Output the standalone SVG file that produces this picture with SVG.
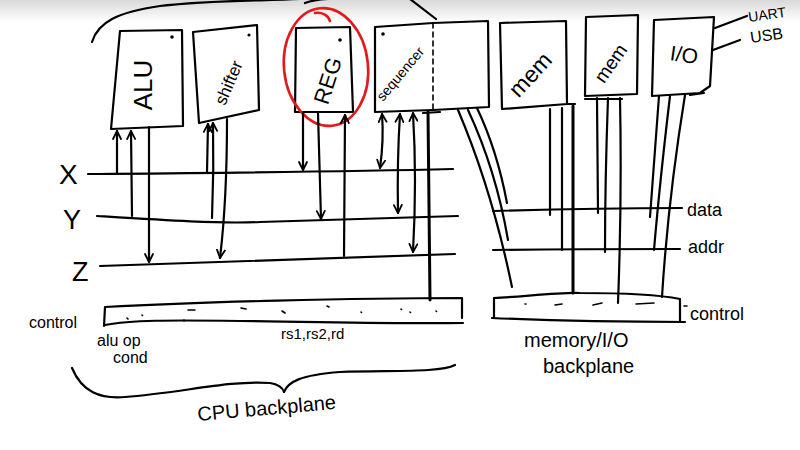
<svg xmlns="http://www.w3.org/2000/svg" width="800" height="450" viewBox="0 0 800 450">
<defs>
<linearGradient id="topfade" x1="0" y1="0" x2="0" y2="1">
<stop offset="0" stop-color="#d9d9d9"/>
<stop offset="1" stop-color="#ffffff"/>
</linearGradient>
<marker id="ah" viewBox="0 0 10 10" refX="9" refY="5" markerWidth="10" markerHeight="10" orient="auto-start-reverse" markerUnits="userSpaceOnUse">
<path d="M1,1 L9,5 L1,9" fill="none" stroke="#000" stroke-width="1.8" stroke-linecap="round" stroke-linejoin="round"/>
</marker>
<style>
.ink{fill:none;stroke:#000;stroke-width:2.2;stroke-linecap:round;stroke-linejoin:round}
.thick{stroke-width:3}
.thin{stroke-width:1.6}
.red{fill:none;stroke:#e01b1b;stroke-width:2.6;stroke-linecap:round}
.arr{marker-end:url(#ah)}
.both{marker-start:url(#ah);marker-end:url(#ah)}
.lbl{font-family:"Liberation Sans","DejaVu Sans",sans-serif;fill:#000}
.dot{fill:#000}
</style>
</defs>
<rect x="0" y="0" width="800" height="450" fill="#fff"/>
<rect x="0" y="0" width="800" height="22" fill="url(#topfade)"/>

<g id="cpu-top-brace">
<path class="ink" d="M92,42 C98,22 118,12 160,6 C210,0 260,1 300,-1 M305,3 C318,-2 340,-2 360,-1 L410,-1"/>
<path class="ink" d="M410,-1 L436,19"/>
</g>

<g id="alu">
<path class="ink" d="M120,31 L182,30 L183,126 L111,129 L120,31"/>
<circle class="dot" cx="172" cy="37" r="1.8"/>
<text class="lbl" font-size="26" transform="translate(152,85) rotate(-90)" text-anchor="middle">ALU</text>
</g>

<g id="shifter">
<path class="ink" d="M193,32 L257,25 L259,110 L199,123 L193,32"/>
<circle class="dot" cx="249" cy="35" r="1.6"/>
<text class="lbl" font-size="17" transform="translate(234,85) rotate(-67)" text-anchor="middle">shifter</text>
</g>

<g id="reg">
<path class="ink" d="M296,28 L350,27 L353,112 L295,112 L296,28"/>
<circle class="dot" cx="340" cy="40" r="1.8"/>
<text class="lbl" font-size="22" transform="translate(335,83) rotate(-72)" text-anchor="middle">REG</text>
<ellipse class="red" cx="326" cy="67" rx="42" ry="59" transform="rotate(-6 326 67)"/>
<path class="red" d="M315,13 C322,12 328,15 330,21"/>
</g>

<g id="sequencer">
<path class="ink" d="M375,27 L433,23 L488,21 L489,107 L433,110 L375,112 L375,27"/>
<path class="ink thin" d="M433,23 L433,110" stroke-dasharray="5,4"/>
<circle class="dot" cx="383" cy="34" r="1.8"/>
<text class="lbl" font-size="14" transform="translate(404,77) rotate(-50)" text-anchor="middle">sequencer</text>
</g>

<g id="mem1">
<path class="ink" d="M500,23 L566,21 L567,104 L575,104 M567,104 L502,109 L500,23"/>
<text class="lbl" font-size="23" transform="translate(536,80) rotate(-47)" text-anchor="middle">mem</text>
</g>

<g id="mem2">
<path class="ink" d="M586,17 L638,15 L637,94 L585,96 L586,17 M585,99 L622,99"/>
<text class="lbl" font-size="19" transform="translate(616,67) rotate(-55)" text-anchor="middle">mem</text>
</g>

<g id="io">
<path class="ink" d="M654,20 L714,17 L710,86 L700,93 L652,96 L654,20 M690,95 L704,93"/>
<text class="lbl" font-size="21" transform="translate(683,62) rotate(8)" text-anchor="middle">I/O</text>
<path class="ink" d="M715,28 L747,16"/>
<path class="ink" d="M713,50 L740,40"/>
<text class="lbl" font-size="14" transform="translate(749,22) rotate(-8)">UART</text>
<text class="lbl" font-size="16" transform="translate(751,43) rotate(-8)">USB</text>
</g>

<g id="x-bus">
<path class="ink" d="M88,174 C200,173 330,172 453,169"/>
<text class="lbl" font-size="28" x="59" y="184">X</text>
</g>
<g id="y-bus">
<path class="ink" d="M97,216 C160,220 220,224 260,222 C340,220 400,218 458,216"/>
<text class="lbl" font-size="27" x="63" y="229">Y</text>
</g>
<g id="z-bus">
<path class="ink" d="M100,266 C210,262 330,258 455,254"/>
<text class="lbl" font-size="27" x="72" y="281">Z</text>
</g>

<g id="cpu-control">
<path class="ink" d="M105,307 C200,302 350,298 462,298 M105,325 C130,320 170,320 240,321 C330,322 400,324 463,323 M105,307 L104,326 M462,298 L462,318"/>
<path class="ink thin" d="M127,318 l1,1 M142,315 l0.5,0.5 M188,310 l7,0 M241,308 l5,1 M282,311 l3,2 M327,306 l2,1 M361,312 l0.5,0.5 M401,309 l0.5,0.5 M410,312 l0.5,0.5 M436,311 l0.5,0.5 M184,320 l0,1"/>
<text class="lbl" font-size="16" x="29" y="328">control</text>
<text class="lbl" font-size="16" x="97" y="346">alu op</text>
<text class="lbl" font-size="16" x="113" y="363">cond</text>
<text class="lbl" font-size="15" x="281" y="339">rs1,rs2,rd</text>
</g>

<g id="cpu-backplane">
<path class="ink" d="M72,368 C82,392 100,399 125,397 C180,393 230,380 270,383 C278,384 283,388 284,392 C288,382 300,375 340,372 C390,370 440,373 455,365"/>
<text class="lbl" font-size="20" transform="translate(198,421) rotate(-5)">CPU backplane</text>
</g>

<g id="data-bus">
<path class="ink" d="M493,211 C560,209 620,208 682,208"/>
<text class="lbl" font-size="18" x="687" y="216">data</text>
</g>
<g id="addr-bus">
<path class="ink" d="M493,250 C560,249 620,249 680,249"/>
<text class="lbl" font-size="18" x="688" y="253">addr</text>
</g>
<g id="mem-control">
<path class="ink" d="M494,298 C520,297 560,292 580,293 C620,293 660,295 680,299 M492,318 C560,321 620,322 685,322 M494,298 L494,317 M680,299 L680,321"/>
<path class="ink thin" d="M684,306 l3,0 M525,304 l1,0 M555,305 l7,-1 M593,305 l9,-2 M636,304 l18,-1"/>
<text class="lbl" font-size="18" x="690" y="320">control</text>
<text class="lbl" font-size="20" x="524" y="347">memory/I/O</text>
<text class="lbl" font-size="20" x="543" y="373">backplane</text>
</g>

<g id="connectors">
<path class="ink arr" d="M117,173 L117,131"/>
<path class="ink arr" d="M132,216 L131,131"/>
<path class="ink arr" d="M149,127 L149,262"/>
<path class="ink arr" d="M207,172 L208,124"/>
<path class="ink arr" d="M212,218 Q214,170 213,123"/>
<path class="ink arr" d="M227,119 Q227,200 220,258"/>
<path class="ink arr" d="M303,113 L303,170"/>
<path class="ink arr" d="M318,113 L321,219"/>
<path class="ink arr" d="M344,256 L345,115"/>
<path class="ink both" d="M382,114 Q384,140 380,168"/>
<path class="ink both" d="M400,114 Q397,160 398,213"/>
<path class="ink both" d="M413,113 Q417,180 413,252"/>
<path class="ink thick" d="M428,112 L430,300"/>
<path class="ink" d="M423,113 L440,112"/>
<path class="ink" d="M458,110 Q492,190 512,287"/>
<path class="ink" d="M468,110 Q496,170 508,240"/>
<path class="ink" d="M477,108 Q497,150 507,203"/>
<path class="ink" d="M550,109 L550,215"/>
<path class="ink" d="M562,108 L562,250"/>
<path class="ink thick" d="M573,106 L573,293"/>
<path class="ink" d="M597,98 L598,213"/>
<path class="ink" d="M608,98 Q605,180 605,252"/>
<path class="ink" d="M620,98 Q622,200 618,303"/>
<path class="ink" d="M659,96 L650,217"/>
<path class="ink" d="M670,96 Q660,180 654,250"/>
<path class="ink" d="M685,95 Q668,200 662,297"/>
</g>
</svg>
